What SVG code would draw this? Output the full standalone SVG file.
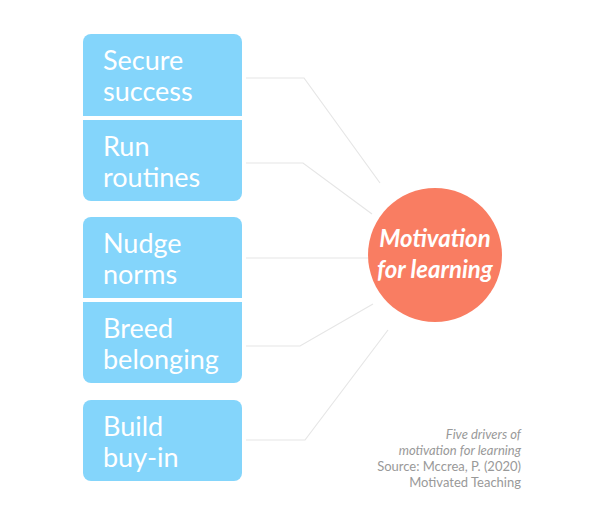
<svg xmlns="http://www.w3.org/2000/svg" width="602" height="516" viewBox="0 0 602 516">
<style>
.b{fill:#84d5fb}
.t{font-family:Lato,"Open Sans",sans-serif;font-size:27px;fill:#fff}
.c{fill:none;stroke:#e6e6e6;stroke-width:1.2}
.s{font-family:Lato,"Open Sans",sans-serif;font-size:13px;fill:#999;text-anchor:end}
.m{font-family:Lato,sans-serif;font-style:italic;font-weight:bold;font-size:24px;fill:#fff;text-anchor:middle}
</style>
<rect width="602" height="516" fill="#fff"/>
<g id="connectors">
<polyline class="c" points="246,78 304,78 380,183"/>
<polyline class="c" points="246,163 303,163 372,214"/>
<polyline class="c" points="246,258 368,258"/>
<polyline class="c" points="246,346 300,346 373,304"/>
<polyline class="c" points="246,440 305,440 388,330"/>
</g>
<g id="n1"><path class="b" d="M91,34H234a8,8 0 0 1 8,8V116H83V42a8,8 0 0 1 8,-8Z"/><text class="t" x="103" y="70">Secure</text><text class="t" x="103" y="101">success</text></g>
<g id="n2"><path class="b" d="M83,120H242V193a8,8 0 0 1 -8,8H91a8,8 0 0 1 -8,-8Z"/><text class="t" x="103" y="156">Run</text><text class="t" x="103" y="187">routines</text></g>
<g id="n3"><path class="b" d="M91,217H234a8,8 0 0 1 8,8V298H83V225a8,8 0 0 1 8,-8Z"/><text class="t" x="103" y="253">Nudge</text><text class="t" x="103" y="284">norms</text></g>
<g id="n4"><path class="b" d="M83,302H242V375a8,8 0 0 1 -8,8H91a8,8 0 0 1 -8,-8Z"/><text class="t" x="103" y="338">Breed</text><text class="t" x="103" y="369">belonging</text></g>
<g id="n5"><rect class="b" x="83" y="400" width="159" height="81" rx="8"/><text class="t" x="103" y="436">Build</text><text class="t" x="103" y="467">buy-in</text></g>
<g id="center"><circle cx="435" cy="255" r="67" fill="#f97d62"/>
<text class="m" x="435" y="247">Motivation</text>
<text class="m" x="435" y="278">for learning</text></g>
<g id="caption">
<text class="s" x="521" y="439" font-style="italic">Five drivers of</text>
<text class="s" x="521" y="455" font-style="italic">motivation  for learning</text>
<text class="s" x="521" y="471">Source: Mccrea, P. (2020)</text>
<text class="s" x="521" y="487">Motivated Teaching</text>
</g>
</svg>
